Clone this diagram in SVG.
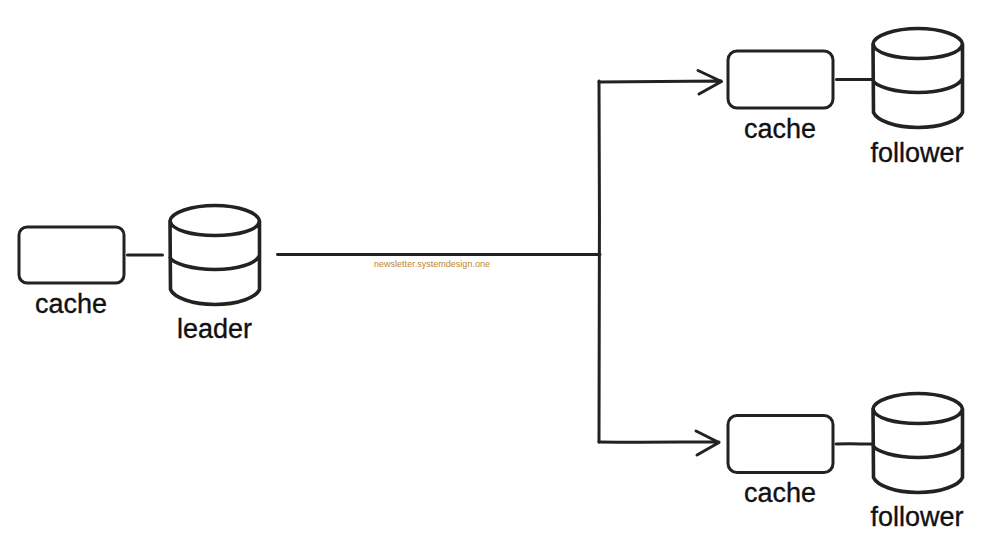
<svg xmlns="http://www.w3.org/2000/svg" width="997" height="559" viewBox="0 0 997 559">
<style>
.s{fill:none;stroke:#222;stroke-width:3;stroke-linecap:round;stroke-linejoin:round}
.c{stroke-width:3.6}
.t{font-family:"Liberation Sans",Arial,sans-serif;font-size:27px;fill:#111;stroke:#111;stroke-width:0.35;text-anchor:middle}
.w{font-family:"Liberation Sans",Arial,sans-serif;font-size:9px;fill:#bd8530}
</style>
<defs>
<path id="cyl" class="s c" d="M0 15.500C1 7 22 0 45 0C68 0 88 7 89.500 15.500C88 25 68 30 45 30C22 30 2 25 0 15.500M0 52C3 58 22 64 45 64C68 64 86 58 89.500 50M0 15.500L0.500 84C4 92 22 99 45 99C68 99 86 92 89.500 84L89.500 15.500"/>
</defs>
<rect width="997" height="559" fill="#fff"/>
<g id="connectors">
<path class="s" d="M127.500 255H162.500"/>
<path class="s" d="M277.500 254.500C380 255 500 254 600 254.500"/>
<path class="s" d="M599 81C600 200 599 330 599 442"/>
<path class="s" d="M599 82C640 82 680 81 721 81M698 70.500L721.500 81.500L699 94"/>
<path class="s" d="M599 442C640 442.500 680 442 719 442M696 431L719 442.500L697 455"/>
<path class="s" d="M836.500 79.500H873"/>
<path class="s" d="M836 444C850 443.500 860 444 873 444"/>
</g>
<g id="cache-leader"><rect class="s" x="19" y="227" width="105" height="56" rx="8"/><text class="t" x="71" y="313">cache</text></g>
<g id="leader"><use href="#cyl" x="170" y="205.500"/><text class="t" x="214.500" y="338">leader</text></g>
<g id="cache-top"><rect class="s" x="728" y="51" width="105" height="57" rx="9"/><text class="t" x="780" y="138">cache</text></g>
<g id="follower-top"><use href="#cyl" x="873" y="28.500"/><text class="t" x="917" y="162">follower</text></g>
<g id="cache-bottom"><rect class="s" x="728" y="415.500" width="105" height="57" rx="9"/><text class="t" x="780" y="502">cache</text></g>
<g id="follower-bottom"><use href="#cyl" x="873" y="393.500"/><text class="t" x="917" y="526">follower</text></g>
<text class="w" x="374" y="267" textLength="116">newsletter.systemdesign.one</text>
</svg>
